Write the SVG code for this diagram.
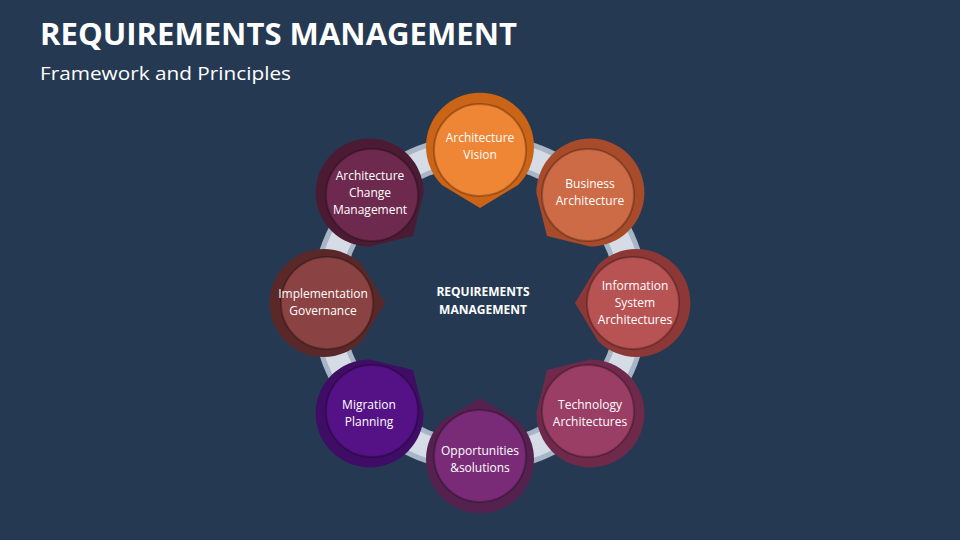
<svg xmlns="http://www.w3.org/2000/svg" width="960" height="540" viewBox="0 0 960 540">
<style>
text{font-family:"Open Sans","Liberation Sans",sans-serif;fill:#fff}
.t{font-size:12px;text-anchor:middle}
.c{stroke:rgba(0,0,0,0.25);stroke-width:2}
</style>
<defs>
<path id="drop" d="M-38,35 L0,58 L38,35 A54,54 0 1 0 -38,35 Z"/>
</defs>
<rect width="960" height="540" fill="#253A52"/>
<text x="40" y="45" font-size="31" font-weight="bold" textLength="477" lengthAdjust="spacingAndGlyphs">REQUIREMENTS MANAGEMENT</text>
<text x="40" y="80" font-size="18" textLength="251" lengthAdjust="spacingAndGlyphs">Framework and Principles</text>
<g id="connectors">
<circle cx="480" cy="303" r="153" fill="none" stroke="#A8B5C6" stroke-width="32"/>
<circle cx="480" cy="303" r="153" fill="none" stroke="#D5DCE5" stroke-width="22"/>
</g>
<g id="center"><text class="t" x="483" y="296" font-size="13" font-weight="bold">REQUIREMENTS</text><text class="t" x="483" y="314" font-size="13" font-weight="bold">MANAGEMENT</text></g>
<g id="vision"><use href="#drop" transform="translate(480,150)" fill="#CB6417"/><circle class="c" cx="480" cy="150" r="46" fill="#EE8636"/><text class="t" x="480" y="142">Architecture</text><text class="t" x="480" y="159">Vision</text></g>
<g id="business"><use href="#drop" transform="translate(588,195) rotate(45)" fill="#A84B2A"/><circle class="c" cx="588" cy="195" r="46" fill="#CD6B47"/><text class="t" x="590" y="188">Business</text><text class="t" x="590" y="205">Architecture</text></g>
<g id="info"><use href="#drop" transform="translate(633,303) rotate(90)" fill="#8E3737"/><circle class="c" cx="633" cy="303" r="46" fill="#B85354"/><text class="t" x="635" y="290">Information</text><text class="t" x="635" y="307">System</text><text class="t" x="635" y="324">Architectures</text></g>
<g id="technology"><use href="#drop" transform="translate(588,411) rotate(135)" fill="#6F2A4B"/><circle class="c" cx="588" cy="411" r="46" fill="#9B3E65"/><text class="t" x="590" y="409">Technology</text><text class="t" x="590" y="426">Architectures</text></g>
<g id="opportunities"><use href="#drop" transform="translate(480,456) rotate(180)" fill="#55214F"/><circle class="c" cx="480" cy="456" r="46" fill="#7A2B78"/><text class="t" x="480" y="455">Opportunities</text><text class="t" x="480" y="472">&amp;solutions</text></g>
<g id="migration"><use href="#drop" transform="translate(372,411) rotate(225)" fill="#3F0D66"/><circle class="c" cx="372" cy="411" r="46" fill="#551186"/><text class="t" x="369" y="409">Migration</text><text class="t" x="369" y="426">Planning</text></g>
<g id="implementation"><use href="#drop" transform="translate(327,303) rotate(270)" fill="#5A2828"/><circle class="c" cx="327" cy="303" r="46" fill="#8B4242"/><text class="t" x="323" y="298">Implementation</text><text class="t" x="323" y="315">Governance</text></g>
<g id="change"><use href="#drop" transform="translate(372,195) rotate(315)" fill="#4B1B34"/><circle class="c" cx="372" cy="195" r="46" fill="#6E2A4E"/><text class="t" x="370" y="180">Architecture</text><text class="t" x="370" y="197">Change</text><text class="t" x="370" y="214">Management</text></g>
</svg>
